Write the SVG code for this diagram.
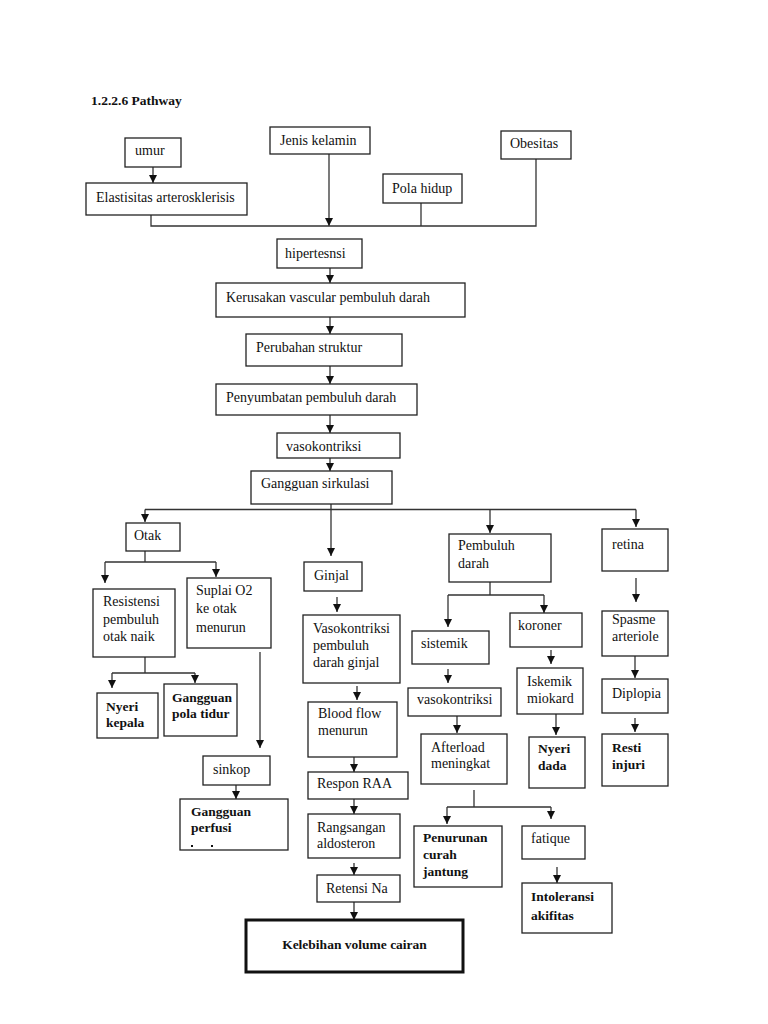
<svg xmlns="http://www.w3.org/2000/svg" width="768" height="1024" viewBox="0 0 768 1024">
<defs>
<marker id="arr" viewBox="0 0 8 8" refX="8" refY="4" markerWidth="8" markerHeight="8" orient="auto" markerUnits="userSpaceOnUse">
<path d="M0,0 L8,4 L0,8 z" fill="#111"/>
</marker>
<style>
rect{fill:#fff;stroke:#222;stroke-width:1.3}
text{font-family:"Liberation Serif","Times New Roman",serif;font-size:14px;fill:#111}
.b{font-weight:bold;font-size:13.5px}
.c path{fill:none;stroke:#333;stroke-width:1.3}
.a{marker-end:url(#arr)}
.thick{stroke-width:3;stroke:#111}
</style>
</defs>
<rect x="0" y="0" width="768" height="1024" style="fill:#fff;stroke:none"/>
<text x="91" y="105" class="b" style="font-size:13.5px">1.2.2.6 Pathway</text>

<g class="c" id="connectors">
<path class="a" d="M153,167 V183"/>
<path class="a" d="M329,154 V226"/>
<path d="M151,215 V226 H536 V159"/>
<path d="M421,203 V226"/>
<path class="a" d="M330,268 V283"/>
<path class="a" d="M330,317 V334"/>
<path class="a" d="M330,366 V384"/>
<path class="a" d="M330,415 V433"/>
<path class="a" d="M330,458 V471"/>
<path class="a" d="M331,504 V556"/>
<path d="M145,509.5 H636"/>
<path class="a" d="M145,509.5 V522"/>
<path class="a" d="M490,509.5 V533"/>
<path class="a" d="M636,509.5 V527"/>
<path d="M145,551 V562 M105,562 H216"/>
<path class="a" d="M105,562 V583"/>
<path class="a" d="M216,562 V577"/>
<path d="M145,657 V673 M112,673 H195"/>
<path class="a" d="M112,673 V688"/>
<path class="a" d="M195,673 V683"/>
<path class="a" d="M260,652 V748"/>
<path class="a" d="M236,785 V799"/>
<path class="a" d="M337,597 V612"/>
<path class="a" d="M357,686 V700"/>
<path class="a" d="M354,757 V772"/>
<path class="a" d="M354,799 V814"/>
<path class="a" d="M354,863 V875"/>
<path class="a" d="M354,902 V920"/>
<path d="M490,582 V595 M448,595 H544"/>
<path class="a" d="M448,595 V627"/>
<path class="a" d="M544,595 V613"/>
<path class="a" d="M448,669 V683"/>
<path class="a" d="M551,650 V664"/>
<path class="a" d="M457,716 V733"/>
<path class="a" d="M556,714 V735"/>
<path d="M474,790 V807 M447,807 H551"/>
<path class="a" d="M447,807 V824"/>
<path class="a" d="M551,807 V819"/>
<path class="a" d="M557,867 V883"/>
<path class="a" d="M636,578 V602"/>
<path class="a" d="M635,656 V678"/>
<path class="a" d="M635,718 V732"/>
</g>

<g id="umur"><rect x="125" y="138" width="56" height="29"/><text x="135" y="155">umur</text></g>
<g id="elastisitas"><rect x="86" y="183" width="161" height="32"/><text x="96" y="202">Elastisitas arterosklerisis</text></g>
<g id="jenis-kelamin"><rect x="270" y="127" width="100" height="27"/><text x="280" y="145">Jenis kelamin</text></g>
<g id="pola-hidup"><rect x="383" y="174" width="79" height="29"/><text x="392" y="193">Pola hidup</text></g>
<g id="obesitas"><rect x="501" y="131" width="70" height="28"/><text x="510" y="148">Obesitas</text></g>
<g id="hipertensi"><rect x="277" y="239" width="85" height="29"/><text x="285" y="258">hipertesnsi</text></g>
<g id="kerusakan"><rect x="216" y="283" width="249" height="34"/><text x="226" y="302">Kerusakan vascular pembuluh darah</text></g>
<g id="perubahan"><rect x="246" y="334" width="156" height="32"/><text x="256" y="352">Perubahan struktur</text></g>
<g id="penyumbatan"><rect x="216" y="384" width="201" height="31"/><text x="226" y="402">Penyumbatan pembuluh darah</text></g>
<g id="vasokontriksi1"><rect x="277" y="433" width="123" height="25"/><text x="286" y="451">vasokontriksi</text></g>
<g id="gangguan-sirkulasi"><rect x="251" y="471" width="141" height="33"/><text x="261" y="488">Gangguan sirkulasi</text></g>

<g id="otak"><rect x="126" y="523" width="54" height="28"/><text x="134" y="540">Otak</text></g>
<g id="resistensi"><rect x="93" y="589" width="82" height="68"/><text x="103" y="606">Resistensi</text><text x="103" y="624">pembuluh</text><text x="103" y="641">otak naik</text></g>
<g id="suplai"><rect x="187" y="578" width="84" height="70"/><text x="196" y="595">Suplai O2</text><text x="196" y="613">ke otak</text><text x="196" y="632">menurun</text></g>
<g id="nyeri-kepala"><rect x="97" y="693" width="61" height="45"/><text x="106" y="711" class="b">Nyeri</text><text x="106" y="727" class="b">kepala</text></g>
<g id="gangguan-pola-tidur"><rect x="164" y="684" width="73" height="52"/><text x="172" y="702" class="b">Gangguan</text><text x="172" y="718" class="b">pola tidur</text></g>
<g id="sinkop"><rect x="203" y="756" width="67" height="29"/><text x="213" y="774">sinkop</text></g>
<g id="gangguan-perfusi"><rect x="180" y="799" width="108" height="51"/><text x="191" y="816" class="b">Gangguan</text><text x="191" y="832" class="b">perfusi</text>
<rect x="191" y="845" width="2" height="2" style="fill:#111;stroke:none"/><rect x="211" y="845" width="2" height="2" style="fill:#111;stroke:none"/></g>

<g id="ginjal"><rect x="304" y="562" width="58" height="29"/><text x="314" y="580">Ginjal</text></g>
<g id="vaso-ginjal"><rect x="303" y="615" width="97" height="68"/><text x="313" y="633">Vasokontriksi</text><text x="313" y="650">pembuluh</text><text x="313" y="667">darah ginjal</text></g>
<g id="blood-flow"><rect x="308" y="702" width="89" height="55"/><text x="318" y="718">Blood flow</text><text x="318" y="735">menurun</text></g>
<g id="respon-raa"><rect x="308" y="772" width="100" height="27"/><text x="317" y="788">Respon RAA</text></g>
<g id="rangsangan"><rect x="308" y="814" width="92" height="44"/><text x="317" y="832">Rangsangan</text><text x="317" y="848">aldosteron</text></g>
<g id="retensi"><rect x="317" y="875" width="83" height="27"/><text x="326" y="893">Retensi Na</text></g>
<g id="kelebihan"><rect x="246" y="920" width="217" height="52" class="thick"/><text x="354.5" y="949" class="b" text-anchor="middle">Kelebihan volume cairan</text></g>

<g id="pembuluh-darah"><rect x="449" y="534" width="102" height="48"/><text x="458" y="550">Pembuluh</text><text x="458" y="568">darah</text></g>
<g id="sistemik"><rect x="412" y="631" width="77" height="33"/><text x="421" y="648">sistemik</text></g>
<g id="koroner"><rect x="510" y="613" width="72" height="34"/><text x="518" y="630">koroner</text></g>
<g id="vasokontriksi2"><rect x="408" y="688" width="93" height="28"/><text x="417" y="704">vasokontriksi</text></g>
<g id="afterload"><rect x="421" y="734" width="86" height="50"/><text x="431" y="752">Afterload</text><text x="431" y="768">meningkat</text></g>
<g id="iskemik"><rect x="517" y="668" width="66" height="46"/><text x="527" y="686">Iskemik</text><text x="527" y="703">miokard</text></g>
<g id="nyeri-dada"><rect x="529" y="737" width="56" height="51"/><text x="538" y="753" class="b">Nyeri</text><text x="538" y="770" class="b">dada</text></g>
<g id="penurunan"><rect x="414" y="826" width="88" height="61"/><text x="423" y="842" class="b">Penurunan</text><text x="423" y="859" class="b">curah</text><text x="423" y="876" class="b">jantung</text></g>
<g id="fatique"><rect x="522" y="826" width="63" height="33"/><text x="531" y="843">fatique</text></g>
<g id="intoleransi"><rect x="522" y="883" width="90" height="50"/><text x="531" y="901" class="b">Intoleransi</text><text x="531" y="920" class="b">akifitas</text></g>

<g id="retina"><rect x="602" y="529" width="66" height="42"/><text x="612" y="549">retina</text></g>
<g id="spasme"><rect x="602" y="611" width="66" height="45"/><text x="612" y="624">Spasme</text><text x="612" y="641">arteriole</text></g>
<g id="diplopia"><rect x="602" y="679" width="66" height="34"/><text x="612" y="698">Diplopia</text></g>
<g id="resti"><rect x="602" y="734" width="66" height="52"/><text x="612" y="752" class="b">Resti</text><text x="612" y="769" class="b">injuri</text></g>
</svg>
